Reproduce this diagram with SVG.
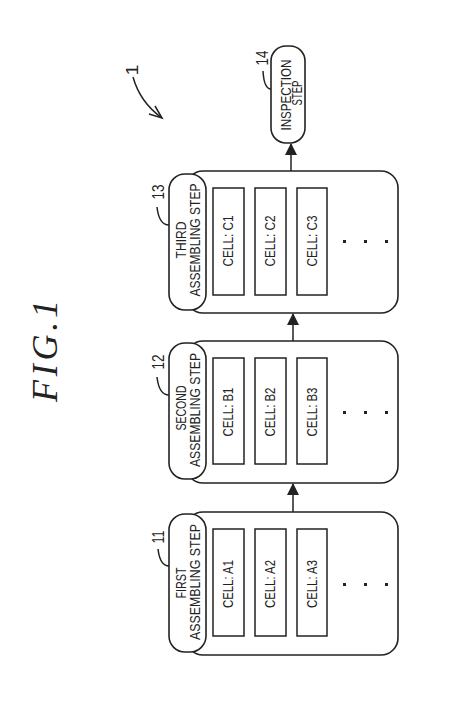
<svg xmlns="http://www.w3.org/2000/svg" width="474" height="707" viewBox="0 0 474 707">
<style>
.box{fill:#fff;stroke:#222;stroke-width:1.6}
.pill{fill:#fff;stroke:#222;stroke-width:1.6}
.cell{fill:#fff;stroke:#222;stroke-width:1.5}
.t{font-family:"Liberation Sans",Arial,sans-serif;font-size:15px;fill:#222;text-anchor:middle}
.n{font-family:"Liberation Sans",Arial,sans-serif;font-size:16px;fill:#222;text-anchor:middle}
.ln{fill:none;stroke:#222;stroke-width:1.5}
.dot{fill:#222}
</style>
<defs>
<marker id="ah" viewBox="0 0 12 12" refX="11" refY="6" markerWidth="12" markerHeight="12" markerUnits="userSpaceOnUse" orient="auto">
<path d="M0,0 L12,6 L0,12 Z" fill="#222"/>
</marker>
</defs>
<text x="0" y="0" transform="translate(57,351) rotate(-90)" style="font-family:'Liberation Serif','Times New Roman',serif;font-style:italic;font-size:36px;fill:#222;text-anchor:middle" textLength="102" lengthAdjust="spacing">FIG.1</text>
<g id="ref1">
<text class="n" transform="translate(138,70) rotate(-90)" textLength="11" lengthAdjust="spacingAndGlyphs">1</text>
<path class="ln" d="M133,77 C138,95 148,108 162,118"/>
<polyline class="ln" points="149,114 162,118 155,106"/>
</g>
<g id="connectors">
<line class="ln" x1="293" y1="512" x2="293" y2="484" marker-end="url(#ah)"/>
<line class="ln" x1="293" y1="341" x2="293" y2="314" marker-end="url(#ah)"/>
<line class="ln" x1="291" y1="171" x2="291" y2="144" marker-end="url(#ah)"/>
</g>
<g id="step11">
<rect class="box" x="186" y="512" width="212" height="143" rx="17"/>
<rect class="pill" x="169" y="514" width="37" height="138" rx="16"/>
<text class="t" transform="translate(186,583) rotate(-90)" textLength="31" lengthAdjust="spacingAndGlyphs">FIRST</text>
<text class="t" transform="translate(200,582) rotate(-90)" textLength="116" lengthAdjust="spacingAndGlyphs">ASSEMBLING STEP</text>
<rect class="cell" x="213" y="529" width="31" height="107"/>
<rect class="cell" x="255" y="529" width="31" height="107"/>
<rect class="cell" x="297" y="529" width="30" height="107"/>
<text class="t" transform="translate(233,584) rotate(-90)" textLength="48" lengthAdjust="spacingAndGlyphs">CELL: A1</text>
<text class="t" transform="translate(275,584) rotate(-90)" textLength="48" lengthAdjust="spacingAndGlyphs">CELL: A2</text>
<text class="t" transform="translate(317,584) rotate(-90)" textLength="48" lengthAdjust="spacingAndGlyphs">CELL: A3</text>
<rect class="dot" x="343" y="583" width="3" height="3"/>
<rect class="dot" x="364" y="583" width="3" height="3"/>
<rect class="dot" x="385" y="583" width="3" height="3"/>
<text class="n" transform="translate(164,537) rotate(-90)" textLength="13" lengthAdjust="spacingAndGlyphs">11</text>
<path class="ln" d="M158,549 Q160,566 169,566"/>
</g>
<g id="step12">
<rect class="box" x="186" y="341" width="212" height="142" rx="17"/>
<rect class="pill" x="169" y="343" width="37" height="136" rx="16"/>
<text class="t" transform="translate(186,408) rotate(-90)" textLength="45" lengthAdjust="spacingAndGlyphs">SECOND</text>
<text class="t" transform="translate(200,410) rotate(-90)" textLength="114" lengthAdjust="spacingAndGlyphs">ASSEMBLING STEP</text>
<rect class="cell" x="213" y="358" width="31" height="106"/>
<rect class="cell" x="255" y="358" width="31" height="106"/>
<rect class="cell" x="297" y="358" width="30" height="106"/>
<text class="t" transform="translate(233,412) rotate(-90)" textLength="49" lengthAdjust="spacingAndGlyphs">CELL: B1</text>
<text class="t" transform="translate(275,412) rotate(-90)" textLength="49" lengthAdjust="spacingAndGlyphs">CELL: B2</text>
<text class="t" transform="translate(317,412) rotate(-90)" textLength="49" lengthAdjust="spacingAndGlyphs">CELL: B3</text>
<rect class="dot" x="343" y="411" width="3" height="3"/>
<rect class="dot" x="364" y="411" width="3" height="3"/>
<rect class="dot" x="385" y="411" width="3" height="3"/>
<text class="n" transform="translate(164,362) rotate(-90)" textLength="15" lengthAdjust="spacingAndGlyphs">12</text>
<path class="ln" d="M157,377 Q159,395 169,395"/>
</g>
<g id="step13">
<rect class="box" x="186" y="171" width="212" height="142" rx="17"/>
<rect class="pill" x="169" y="174" width="37" height="136" rx="16"/>
<text class="t" transform="translate(186,240) rotate(-90)" textLength="37" lengthAdjust="spacingAndGlyphs">THIRD</text>
<text class="t" transform="translate(200,240) rotate(-90)" textLength="113" lengthAdjust="spacingAndGlyphs">ASSEMBLING STEP</text>
<rect class="cell" x="213" y="188" width="31" height="107"/>
<rect class="cell" x="255" y="188" width="31" height="107"/>
<rect class="cell" x="297" y="188" width="30" height="107"/>
<text class="t" transform="translate(233,241) rotate(-90)" textLength="51" lengthAdjust="spacingAndGlyphs">CELL: C1</text>
<text class="t" transform="translate(275,241) rotate(-90)" textLength="51" lengthAdjust="spacingAndGlyphs">CELL: C2</text>
<text class="t" transform="translate(317,241) rotate(-90)" textLength="51" lengthAdjust="spacingAndGlyphs">CELL: C3</text>
<rect class="dot" x="343" y="240" width="3" height="3"/>
<rect class="dot" x="364" y="240" width="3" height="3"/>
<rect class="dot" x="385" y="240" width="3" height="3"/>
<text class="n" transform="translate(164,192) rotate(-90)" textLength="15" lengthAdjust="spacingAndGlyphs">13</text>
<path class="ln" d="M157,207 Q159,225 169,225"/>
</g>
<g id="step14">
<rect class="pill" x="271" y="46" width="34" height="97" rx="15"/>
<text class="t" transform="translate(291,95) rotate(-90)" textLength="71" lengthAdjust="spacingAndGlyphs">INSPECTION</text>
<text class="t" transform="translate(302,93) rotate(-90)" textLength="25" lengthAdjust="spacingAndGlyphs">STEP</text>
<text class="n" transform="translate(268,58) rotate(-90)" textLength="15" lengthAdjust="spacingAndGlyphs">14</text>
<path class="ln" d="M263,71 Q264,89 271,89"/>
</g>
</svg>
